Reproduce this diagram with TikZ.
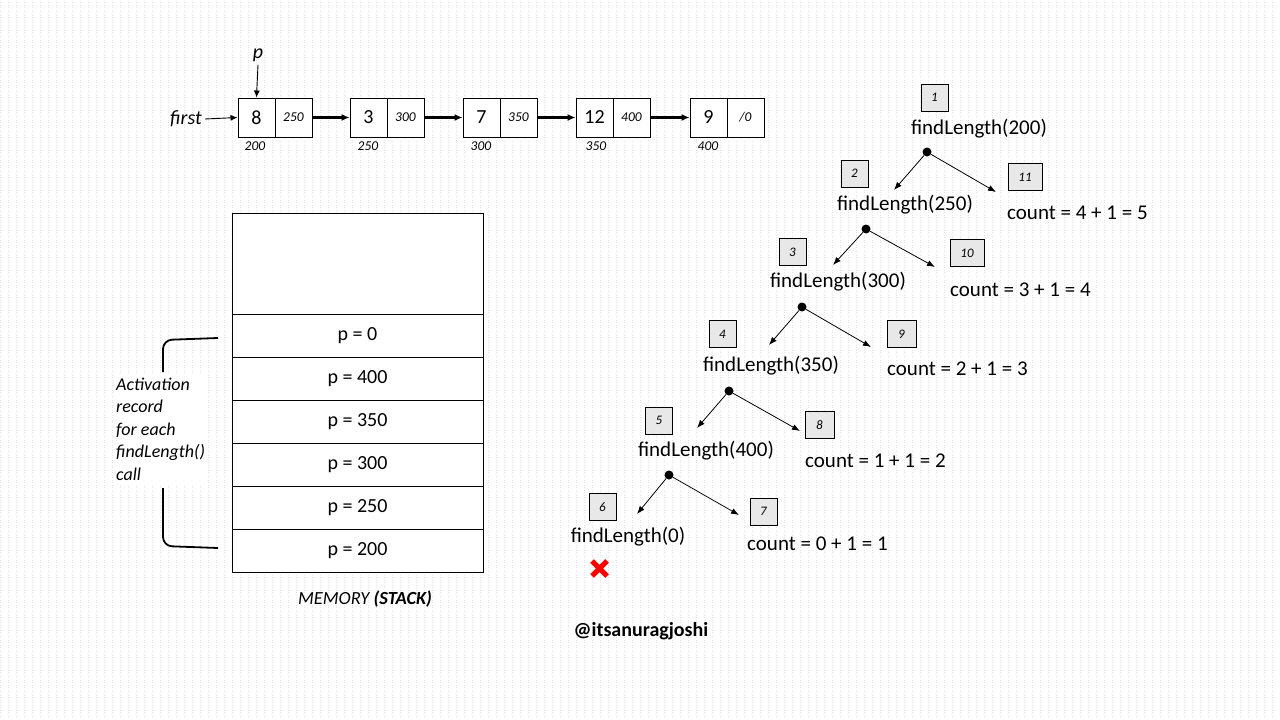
\documentclass[tikz,border=0pt]{standalone}
\usepackage{fontspec}
\setmainfont{Carlito}
\usetikzlibrary{arrows.meta}
\begin{document}
\begin{tikzpicture}[x=1pt,y=-1pt,
 cell/.style={draw, line width=0.9pt, fill=white, minimum width=37pt, minimum height=39pt, inner sep=0pt, font=\fontsize{20}{24}\selectfont},
 ptrcell/.style={cell, font=\fontsize{13.5}{16}\selectfont\itshape},
 addr/.style={font=\fontsize{13.5}{16}\selectfont\itshape, inner sep=0pt},
 larrow/.style={-{Latex[length=8pt,width=7pt]}, line width=2.3pt},
 thinarrow/.style={-{Latex[length=7pt,width=6pt]}, line width=0.9pt},
 rowbox/.style={draw, line width=0.9pt, fill=white, minimum width=251pt, minimum height=43pt, inner sep=0pt, font=\fontsize{20}{24}\selectfont},
 callnode/.style={font=\fontsize{21}{25}\selectfont, inner sep=0pt},
 cntnode/.style={font=\fontsize{21}{25}\selectfont, inner sep=0pt, anchor=west},
 numbox/.style={draw, line width=0.9pt, fill=gray!18, minimum width=27pt, minimum height=27pt, inner sep=0pt, font=\fontsize{13}{15}\selectfont\itshape},
 tarrow/.style={-{Latex[length=8pt,width=6pt]}, line width=0.8pt},
 calldot/.style={circle, fill=black, inner sep=0pt, minimum size=9pt}
]
\useasboundingbox (0,0) rectangle (1280,720);
\fill[white] (0,0) rectangle (1280,720);
\draw[gray!22, dotted, line width=0.5pt, step=8] (0,0) grid (1280,720);

% ---------- linked list ----------
\node[cell] (v1) at (256.5,117.5) {8};
\node[ptrcell] (p1) at (293.5,117.5) {250};
\node[cell] (v2) at (368.5,117.5) {3};
\node[ptrcell] (p2) at (405.5,117.5) {300};
\node[cell] (v3) at (481.5,117.5) {7};
\node[ptrcell] (p3) at (518.5,117.5) {350};
\node[cell] (v4) at (594.5,117.5) {12};
\node[ptrcell] (p4) at (631.5,117.5) {400};
\node[cell] (v5) at (708.5,117.5) {9};
\node[ptrcell] (p5) at (745.5,117.5) {/0};
\draw[larrow] (p1.east) -- (v2.west);
\draw[larrow] (p2.east) -- (v3.west);
\draw[larrow] (p3.east) -- (v4.west);
\draw[larrow] (p4.east) -- (v5.west);
\node[addr] (a1) at (255,146) {200};
\node[addr] (a2) at (368,146) {250};
\node[addr] (a3) at (481,146) {300};
\node[addr] (a4) at (596,146) {350};
\node[addr] (a5) at (708,146) {400};
\node[font=\fontsize{20}{24}\selectfont\itshape, inner sep=3pt] (first) at (186,119) {first};
\draw[thinarrow] (first.east) -- (v1.west);
\node[font=\fontsize{20}{24}\selectfont\itshape, inner sep=3pt] (plabel) at (258,55) {p};
\draw[thinarrow] (plabel.south) -- (v1.north);

% ---------- stack ----------
\node[rowbox, minimum height=101pt] (top) at (357.5,263.5) {};
\node[rowbox] (r0) at (357.5,336) {p = 0};
\node[rowbox] (r400) at (357.5,379) {p = 400};
\node[rowbox] (r350) at (357.5,422) {p = 350};
\node[rowbox] (r300) at (357.5,465) {p = 300};
\node[rowbox] (r250) at (357.5,508) {p = 250};
\node[rowbox] (r200) at (357.5,551) {p = 200};
\node[font=\fontsize{18.5}{22}\selectfont\itshape] (mem) at (365,599) {MEMORY \textbf{(STACK)}};

% bracket
\draw[line width=1.8pt, rounded corners=9pt] (218,338) -- (163,340) -- (163,372);
\draw[line width=1.8pt, rounded corners=9pt] (163,488) -- (163,546) -- (218,548);
\node[anchor=west, align=left, fill=white, inner sep=3pt, font=\fontsize{18}{22.5}\selectfont\itshape] (act) at (113,429) {Activation\\record\\for each\\findLength()\\call};

% ---------- recursion tree ----------
% level 1
\node[numbox] (n1) at (934.5,97.5) {1};
\node[callnode] (c1) at (979,129) {findLength(200)};
\node[calldot] (d1) at (927,152) {};
\coordinate (l1) at (894,190);
\coordinate (r1) at (996,192);
\draw[tarrow] (d1) -- (l1);
\draw[tarrow] (d1) -- (r1);
\node[numbox] (n2) at (854.5,173.5) {2};
\node[numbox, minimum width=34pt] (n11) at (1025,177) {11};
\node[callnode] (c2) at (905,205) {findLength(250)};
\node[cntnode] (k11) at (1007,213) {count = 4 + 1 = 5};
% level 2
\node[calldot] (d2) at (866,229) {};
\coordinate (l2) at (833,265);
\coordinate (r2) at (935,267);
\draw[tarrow] (d2) -- (l2);
\draw[tarrow] (d2) -- (r2);
\node[numbox] (n3) at (792.5,252) {3};
\node[numbox, minimum width=34pt] (n10) at (967,253) {10};
\node[callnode] (c3) at (838,282) {findLength(300)};
\node[cntnode] (k10) at (950,290) {count = 3 + 1 = 4};
% level 3
\node[calldot] (d3) at (802,307) {};
\coordinate (l3) at (769,345);
\coordinate (r3) at (871,347);
\draw[tarrow] (d3) -- (l3);
\draw[tarrow] (d3) -- (r3);
\node[numbox] (n4) at (722.5,334) {4};
\node[numbox, minimum width=29pt] (n9) at (901.5,334) {9};
\node[callnode] (c4) at (771,366) {findLength(350)};
\node[cntnode] (k9) at (887,369) {count = 2 + 1 = 3};
% level 4
\node[calldot] (d4) at (729,391) {};
\coordinate (l4) at (697,428);
\coordinate (r4) at (800,431);
\draw[tarrow] (d4) -- (l4);
\draw[tarrow] (d4) -- (r4);
\node[numbox] (n5) at (659,420.5) {5};
\node[numbox, minimum width=29pt] (n8) at (819.5,425) {8};
\node[callnode] (c5) at (706,451) {findLength(400)};
\node[cntnode] (k8) at (805,461) {count = 1 + 1 = 2};
% level 5
\node[calldot] (d5) at (669,475) {};
\coordinate (l5) at (637,514);
\coordinate (r5) at (739,515);
\draw[tarrow] (d5) -- (l5);
\draw[tarrow] (d5) -- (r5);
\node[numbox] (n6) at (602.5,507) {6};
\node[numbox] (n7) at (763.5,511.5) {7};
\node[callnode] (c6) at (628,537) {findLength(0)};
\node[cntnode] (k7) at (747,544) {count = 0 + 1 = 1};
% red cross
\draw[red, line width=5pt] (592,561) -- (607,576) (592,576) -- (607,561);

\node[font=\fontsize{20}{24}\selectfont\bfseries] (handle) at (641,631) {@itsanuragjoshi};
\end{tikzpicture}
\end{document}
